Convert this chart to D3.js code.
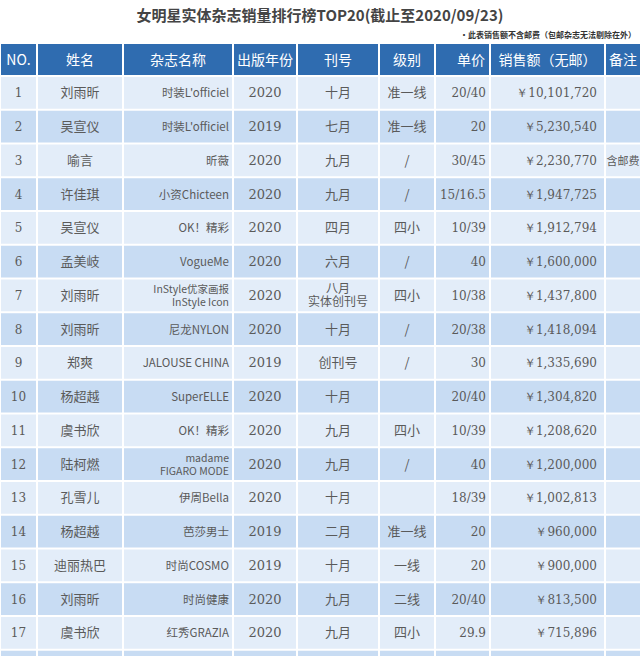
<!DOCTYPE html>
<html><head><meta charset="utf-8">
<script src="https://cdn.jsdelivr.net/npm/d3@7"></script>
<style>body{margin:0;background:#fff;font-family:"Noto Sans CJK SC","Noto Sans",sans-serif}</style>
</head><body>
<svg id="t" width="641" height="656"></svg>
<script>
// table data
var headers = ['NO.', '姓名', '杂志名称', '出版年份', '刊号', '级别', '单价', '销售额（无邮）', '备注'];
var names = ['刘雨昕','吴宣仪','喻言','许佳琪','吴宣仪','孟美岐','刘雨昕','刘雨昕','郑爽','杨超越','虞书欣','陆柯燃','孔雪儿','杨超越','迪丽热巴','刘雨昕','虞书欣','',''];
var mags = ['时装L\'officiel','时装L\'officiel','昕薇','小资Chicteen','OK！精彩','VogueMe','InStyle优家画报|InStyle Icon','尼龙NYLON','JALOUSE CHINA','SuperELLE','OK！精彩','madame|FIGARO MODE','伊周Bella','芭莎男士','时尚COSMO','时尚健康','红秀GRAZIA','',''];
var years = ['2020','2019','2020','2020','2020','2020','2020','2020','2019','2020','2020','2020','2020','2019','2019','2020','2020','',''];
var issues = ['十月','七月','九月','九月','四月','六月','八月|实体创刊号','十月','创刊号','十月','九月','九月','十月','二月','十月','九月','九月','',''];
var levels = ['准一线','准一线','/','/','四小','/','四小','/','/','','四小','/','','准一线','一线','二线','四小','',''];
var prices = ['20/40','20','30/45','15/16.5','10/39','40','10/38','20/38','30','20/40','10/39','40','18/39','20','20','20/40','29.9','',''];
var sales = [10101720,5230540,2230770,1947725,1912794,1600000,1437800,1418094,1335690,1304820,1208620,1200000,1002813,960000,900000,813500,715896,null,null];
var notes = ['','','含邮费','','','','','','','','','','','','','','','',''];

var colEdges = [0,37,123,233,297,379,435,490,605,641];
var svg = d3.select('#t');

svg.append('text').attr('x', 320).attr('y', 21).attr('text-anchor','middle')
  .attr('font-size', 15).attr('font-weight', 'bold').attr('fill', '#444')
  .text('女明星实体杂志销量排行榜TOP20(截止至2020/09/23)');
svg.append('text').attr('x', 636).attr('y', 38).attr('text-anchor','end')
  .attr('font-size', 8).attr('font-weight','bold').attr('fill', '#333')
  .text('•此表销售额不含邮费（包邮杂志无法剔除在外）');

var rows = d3.range(names.length);
var y = d3.scaleBand().domain(rows).range([76, 76 + 33.75 * rows.length]);
var fmt = d3.format(',');

// header
headers.forEach(function(h, i){
  svg.append('rect').attr('x', colEdges[i] + 1).attr('y', 44)
    .attr('width', colEdges[i+1] - colEdges[i] - 2).attr('height', 31).attr('fill', '#2f6cb0');
  svg.append('text').attr('x', i == 6 ? colEdges[i+1] - 5 : (colEdges[i] + colEdges[i+1]) / 2).attr('y', 65)
    .attr('text-anchor', i == 6 ? 'end' : 'middle').attr('fill', '#fff').attr('font-size', 14)
    .text(h);
});

rows.forEach(function(r){
  var cells = [names[r] ? String(r+1) : '', names[r], mags[r], years[r], issues[r], levels[r], prices[r],
    sales[r] == null ? '' : '￥' + fmt(sales[r]), notes[r]];
  var y0 = y(r), h = y.bandwidth();
  cells.forEach(function(c, i){
    svg.append('rect').attr('x', colEdges[i] + 1).attr('y', y0 + 1)
      .attr('width', colEdges[i+1] - colEdges[i] - 2).attr('height', h - 2)
      .attr('fill', r % 2 ? '#c8dcf3' : '#e3edf9');
    var anchor = 'middle', x = (colEdges[i] + colEdges[i+1]) / 2;
    if (i == 2 || i == 6) { anchor = 'end'; x = colEdges[i+1] - 4; }
    if (i == 7) { anchor = 'end'; x = colEdges[i+1] - 8; }
    var lines = c.split('|');
    var multi = lines.length > 1;
    var fs = i == 2 ? (multi ? 10.5 : 11.5) : (i == 0 || i == 6 || i == 7 ? 12 : (i == 8 ? 11 : 13));
    if (i == 4 && multi) fs = 12;
    var fam = (i == 0 || i == 3 || i == 6 || i == 7) ? 'DejaVu Serif, serif' : null;
    lines.forEach(function(l, k){
      svg.append('text').attr('x', x).attr('y', y0 + h / 2 + 4.5 + (k - (lines.length - 1) / 2) * 13)
        .attr('text-anchor', anchor).attr('font-size', fs).attr('fill', '#5a5a5a')
        .attr('font-family', fam).text(l);
    });
  });
});
</script>
</body></html>
